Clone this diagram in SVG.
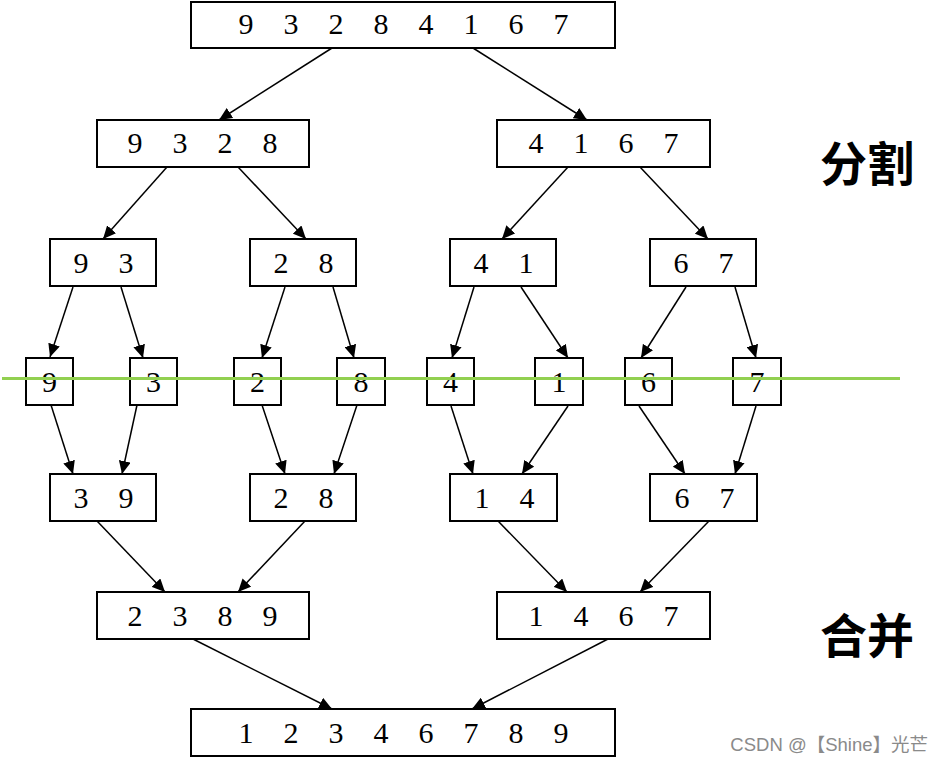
<svg xmlns="http://www.w3.org/2000/svg" width="943" height="762" viewBox="0 0 943 762">
<style>
.box{fill:#fff;stroke:#000;stroke-width:2}
.num{font-family:"Liberation Serif","Times New Roman",serif;font-size:30px;fill:#000;text-anchor:middle}
.lbl{font-family:"Noto Sans CJK SC","Noto Sans",sans-serif;font-size:47px;font-weight:bold;fill:#000}
.wm{font-family:"Liberation Sans","Noto Sans CJK SC",sans-serif;font-size:18.5px;fill:#8a8a8a;text-anchor:end}
#connectors line{stroke:#000;stroke-width:1.5;marker-end:url(#ah)}
</style>
<defs>
<marker id="ah" markerUnits="userSpaceOnUse" markerWidth="14" markerHeight="12" refX="13" refY="6" orient="auto">
<path d="M0,0 L13,6 L0,12 Z" fill="#000"/>
</marker>
</defs>
<rect width="943" height="762" fill="#fff"/>
<g id="connectors">
<line x1="332" y1="48" x2="219" y2="120"/>
<line x1="473" y1="48" x2="587" y2="120"/>
<line x1="167" y1="167" x2="103" y2="239"/>
<line x1="238" y1="167" x2="306" y2="239"/>
<line x1="568" y1="167" x2="502" y2="239"/>
<line x1="640" y1="167" x2="708" y2="239"/>
<line x1="73" y1="287" x2="50" y2="357"/>
<line x1="121" y1="287" x2="143" y2="358"/>
<line x1="285" y1="287" x2="262" y2="358"/>
<line x1="333" y1="287" x2="354" y2="358"/>
<line x1="474" y1="287" x2="452" y2="358"/>
<line x1="521" y1="287" x2="568" y2="358"/>
<line x1="686" y1="287" x2="641" y2="358"/>
<line x1="735" y1="287" x2="756" y2="358"/>
<line x1="51" y1="405" x2="73" y2="474"/>
<line x1="137" y1="405" x2="122" y2="474"/>
<line x1="262" y1="405" x2="285" y2="474"/>
<line x1="357" y1="405" x2="334" y2="474"/>
<line x1="451" y1="406" x2="473" y2="474"/>
<line x1="568" y1="406" x2="522" y2="474"/>
<line x1="639" y1="406" x2="685" y2="474"/>
<line x1="756" y1="406" x2="735" y2="474"/>
<line x1="97" y1="521" x2="165" y2="592"/>
<line x1="305" y1="521" x2="238" y2="592"/>
<line x1="498" y1="521" x2="567" y2="592"/>
<line x1="709" y1="521" x2="640" y2="592"/>
<line x1="193" y1="639" x2="332" y2="709"/>
<line x1="608" y1="639" x2="472" y2="709"/>
</g>
<g id="n-root"><rect class="box" x="191" y="2" width="424" height="46"/><text class="num" x="246 268.5 291 313.5 336 358.5 381 403.5 426 448.5 471 493.5 516 538.5 561" y="34">9 3 2 8 4 1 6 7</text></g>
<g id="n-9328"><rect class="box" x="97" y="120" width="212" height="47"/><text class="num" x="135 157.5 180 202.5 225 247.5 270" y="153">9 3 2 8</text></g>
<g id="n-4167"><rect class="box" x="497" y="120" width="213" height="47"/><text class="num" x="536 558.5 581 603.5 626 648.5 671" y="153">4 1 6 7</text></g>
<g id="n-93"><rect class="box" x="50" y="239" width="106" height="47"/><text class="num" x="81 103.5 126" y="273">9 3</text></g>
<g id="n-28a"><rect class="box" x="250" y="239" width="106" height="47"/><text class="num" x="281 303.5 326" y="273">2 8</text></g>
<g id="n-41"><rect class="box" x="450" y="239" width="106" height="47"/><text class="num" x="481 503.5 526" y="273">4 1</text></g>
<g id="n-67a"><rect class="box" x="650" y="239" width="106" height="47"/><text class="num" x="681 703.5 726" y="273">6 7</text></g>
<g id="n-9"><rect class="box" x="26" y="358" width="47" height="47"/><text class="num" x="49.5" y="392">9</text></g>
<g id="n-3"><rect class="box" x="130" y="358" width="47" height="47"/><text class="num" x="153.5" y="392">3</text></g>
<g id="n-2"><rect class="box" x="234" y="358" width="47" height="47"/><text class="num" x="257.5" y="392">2</text></g>
<g id="n-8"><rect class="box" x="337" y="358" width="48" height="47"/><text class="num" x="361" y="392">8</text></g>
<g id="n-4"><rect class="box" x="427" y="358" width="47" height="47"/><text class="num" x="450.5" y="392">4</text></g>
<g id="n-1"><rect class="box" x="535" y="358" width="48" height="47"/><text class="num" x="559" y="392">1</text></g>
<g id="n-6"><rect class="box" x="625" y="358" width="47" height="47"/><text class="num" x="648.5" y="392">6</text></g>
<g id="n-7"><rect class="box" x="733" y="358" width="48" height="47"/><text class="num" x="757" y="392">7</text></g>
<line x1="2" y1="378.5" x2="900" y2="378.5" stroke="#92d050" stroke-width="3"/>
<g id="n-39"><rect class="box" x="50" y="474" width="106" height="47"/><text class="num" x="81 103.5 126" y="508">3 9</text></g>
<g id="n-28b"><rect class="box" x="250" y="474" width="106" height="47"/><text class="num" x="281 303.5 326" y="508">2 8</text></g>
<g id="n-14"><rect class="box" x="450" y="474" width="107" height="47"/><text class="num" x="482 504.5 527" y="508">1 4</text></g>
<g id="n-67b"><rect class="box" x="650" y="474" width="107" height="47"/><text class="num" x="682 704.5 727" y="508">6 7</text></g>
<g id="n-2389"><rect class="box" x="97" y="592" width="212" height="47"/><text class="num" x="135 157.5 180 202.5 225 247.5 270" y="626">2 3 8 9</text></g>
<g id="n-1467"><rect class="box" x="497" y="592" width="213" height="47"/><text class="num" x="536 558.5 581 603.5 626 648.5 671" y="626">1 4 6 7</text></g>
<g id="n-final"><rect class="box" x="191" y="709" width="424" height="47"/><text class="num" x="246 268.5 291 313.5 336 358.5 381 403.5 426 448.5 471 493.5 516 538.5 561" y="743">1 2 3 4 6 7 8 9</text></g>
<text class="lbl" x="820" y="181">分割</text>
<text class="lbl" x="820" y="653">合并</text>
<text class="wm" x="928" y="751">CSDN @【Shine】光芒</text>
</svg>
